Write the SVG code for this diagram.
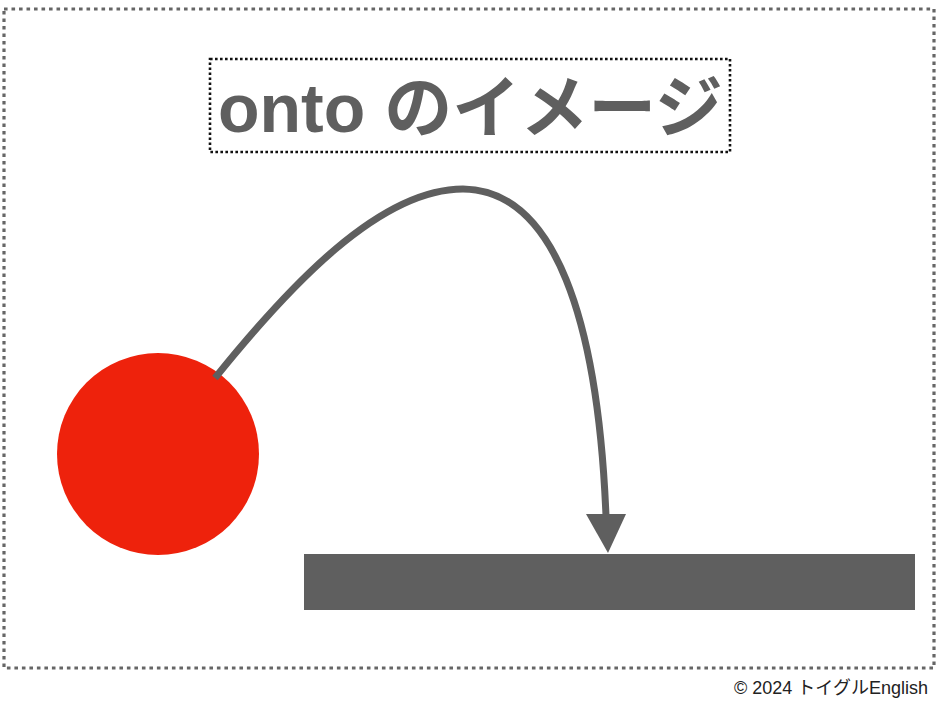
<svg xmlns="http://www.w3.org/2000/svg" width="940" height="705" viewBox="0 0 940 705">
  <style>
    .frame { fill: none; stroke: #666666; stroke-width: 3.2; stroke-dasharray: 3.6 3.9; }
    .titlebox { fill: none; stroke: #111111; stroke-width: 2.6; stroke-dasharray: 2.6 2.4; }
    .title { font-family: "Liberation Sans", "Noto Sans CJK JP", sans-serif; font-weight: bold; font-size: 68px; fill: #5f5f5f; }
    .copy { font-family: "Liberation Sans", "Noto Sans CJK JP", sans-serif; font-size: 18px; fill: #222222; }
    .path { fill: none; stroke: #5f5f5f; stroke-width: 7; stroke-linecap: butt; }
  </style>
  <rect width="940" height="705" fill="#ffffff"/>
  <rect class="frame" x="4" y="9" width="930" height="659"/>
  <g id="title">
    <rect class="titlebox" x="210" y="59" width="520" height="93"/>
    <text class="title" x="218" y="132">onto のイメージ</text>
  </g>
  <g id="ball">
    <circle cx="158" cy="454" r="101" fill="#ee220c"/>
  </g>
  <g id="bar">
    <rect x="304" y="554" width="611" height="56" fill="#5f5f5f"/>
  </g>
  <g id="connectors">
    <path class="path" d="M215,378 C290,285 380,189 463,189 C555,190 598,320 606,516"/>
    <polygon points="586,514 626,514 608,553" fill="#5f5f5f"/>
  </g>
  <text class="copy" x="928" y="694" text-anchor="end">© 2024 トイグルEnglish</text>
</svg>
